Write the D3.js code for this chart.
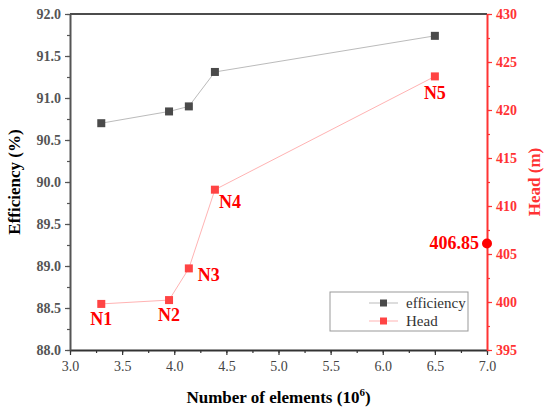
<!DOCTYPE html>
<html lang="en">
<head>
    <meta charset="UTF-8">
    <title>Efficiency and Head vs Number of elements</title>
    <script src="https://d3js.org/d3.v7.min.js"></script>
    <style>
        body {
            margin: 0;
            background: white;
        }
        svg text {
            font-family: "Liberation Serif", "DejaVu Serif", serif;
        }
    </style>
</head>
<body>
    <script>
        // data
        const elements = [3.3, 3.95, 4.14, 4.39, 6.5];
        const efficiency = [90.70, 90.84, 90.90, 91.31, 91.74];
        const head = [399.8, 400.2, 403.5, 411.7, 423.5];
        const meshNames = ["N1", "N2", "N3", "N4", "N5"];
        const xTicks = [3.0, 3.5, 4.0, 4.5, 5.0, 5.5, 6.0, 6.5, 7.0];
        const effTicks = [88.0, 88.5, 89.0, 89.5, 90.0, 90.5, 91.0, 91.5, 92.0];
        const headTicks = [395, 400, 405, 410, 415, 420, 425, 430];
        const chosen = { x: 7.0, y: 406.1, label: "406.85" };

        const width = 550, height = 412;
        const margin = { top: 14, right: 63, bottom: 62, left: 70 };
        const red = "#ff3333";

        const svg = d3.select("body")
            .append("svg")
            .attr("width", width)
            .attr("height", height);

        const x = d3.scaleLinear().domain([3, 7]).range([margin.left, width - margin.right]);
        const yE = d3.scaleLinear().domain([88, 92]).range([height - margin.bottom, margin.top]);
        const yH = d3.scaleLinear().domain([395, 430]).range([height - margin.bottom, margin.top]);

        const x0 = margin.left, x1 = width - margin.right;
        const y0 = height - margin.bottom, y1 = margin.top;

        // top frame line
        svg.append("line")
            .attr("x1", x0).attr("x2", x1)
            .attr("y1", y1).attr("y2", y1)
            .attr("stroke", "#111").attr("stroke-width", 1.5);

        // minor ticks (no labels)
        svg.append("g")
            .attr("transform", `translate(0,${y0})`)
            .call(d3.axisBottom(x).tickValues(d3.range(3, 7.001, 0.25)).tickSize(3).tickFormat(""))
            .call(g => g.select(".domain").remove())
            .call(g => g.selectAll("line").attr("stroke", "#333").attr("stroke-width", 1.2));

        svg.append("g")
            .attr("transform", `translate(${x0},0)`)
            .call(d3.axisLeft(yE).tickValues(d3.range(88, 92.001, 0.25)).tickSize(3).tickFormat(""))
            .call(g => g.select(".domain").remove())
            .call(g => g.selectAll("line").attr("stroke", "#555").attr("stroke-width", 1.2));

        svg.append("g")
            .attr("transform", `translate(${x1},0)`)
            .call(d3.axisRight(yH).tickValues(d3.range(395, 430.001, 2.5)).tickSize(3).tickFormat(""))
            .call(g => g.select(".domain").remove())
            .call(g => g.selectAll("line").attr("stroke", red).attr("stroke-width", 1.2));

        // bottom axis
        svg.append("g")
            .attr("transform", `translate(0,${y0})`)
            .call(d3.axisBottom(x).tickValues(xTicks).tickSize(5).tickPadding(6).tickSizeOuter(0)
                .tickFormat(d3.format(".1f")))
            .attr("font-family", null)
            .call(g => g.select(".domain").attr("stroke", "#333").attr("stroke-width", 2))
            .call(g => g.selectAll("line").attr("stroke", "#333").attr("stroke-width", 1.2))
            .call(g => g.selectAll("text").attr("fill", "#444").style("font-size", "14px"));

        // left axis
        svg.append("g")
            .attr("transform", `translate(${x0},0)`)
            .call(d3.axisLeft(yE).tickValues(effTicks).tickSize(5).tickPadding(4).tickSizeOuter(0)
                .tickFormat(d3.format(".1f")))
            .attr("font-family", null)
            .call(g => g.select(".domain").attr("stroke", "#555").attr("stroke-width", 2))
            .call(g => g.selectAll("line").attr("stroke", "#555").attr("stroke-width", 1.2))
            .call(g => g.selectAll("text")
                .attr("fill", "#555").style("font-size", "14px").style("font-weight", "bold"));

        // right axis
        svg.append("g")
            .attr("transform", `translate(${x1},0)`)
            .call(d3.axisRight(yH).tickValues(headTicks).tickSize(5).tickPadding(4).tickSizeOuter(0))
            .attr("font-family", null)
            .call(g => g.select(".domain").attr("stroke", red).attr("stroke-width", 2))
            .call(g => g.selectAll("line").attr("stroke", red).attr("stroke-width", 1.2))
            .call(g => g.selectAll("text")
                .attr("fill", red).style("font-size", "14px").style("font-weight", "bold"));

        // axis titles
        svg.append("text")
            .attr("transform", `translate(20,${(y0 + y1) / 2}) rotate(-90)`)
            .attr("text-anchor", "middle")
            .style("font-size", "17px").style("font-weight", "bold")
            .text("Efficiency (%)");

        svg.append("text")
            .attr("transform", `translate(540,${(y0 + y1) / 2}) rotate(-90)`)
            .attr("text-anchor", "middle")
            .attr("fill", red)
            .style("font-size", "17px").style("font-weight", "bold")
            .text("Head (m)");

        const xt = svg.append("text")
            .attr("x", (x0 + x1) / 2)
            .attr("y", 403)
            .attr("text-anchor", "middle")
            .style("font-size", "17px").style("font-weight", "bold")
            .text("Number of elements (10");
        xt.append("tspan").attr("dy", -7).style("font-size", "11px").text("6");
        xt.append("tspan").attr("dy", 7).text(")");

        // series
        const effData = elements.map((e, i) => ({ x: e, y: efficiency[i] }));
        const headData = elements.map((e, i) => ({ x: e, y: head[i], name: meshNames[i] }));

        svg.append("path")
            .datum(effData)
            .attr("fill", "none")
            .attr("stroke", "#bbb")
            .attr("stroke-width", 1)
            .attr("d", d3.line().x(d => x(d.x)).y(d => yE(d.y)));

        svg.append("path")
            .datum(headData)
            .attr("fill", "none")
            .attr("stroke", "#ffb3b3")
            .attr("stroke-width", 1)
            .attr("d", d3.line().x(d => x(d.x)).y(d => yH(d.y)));

        const sq = 8;
        svg.selectAll(".eff")
            .data(effData)
            .enter()
            .append("rect")
            .attr("class", "eff")
            .attr("x", d => x(d.x) - sq / 2)
            .attr("y", d => yE(d.y) - sq / 2)
            .attr("width", sq).attr("height", sq)
            .attr("fill", "#4a4a4a");

        svg.selectAll(".head")
            .data(headData)
            .enter()
            .append("rect")
            .attr("class", "head")
            .attr("x", d => x(d.x) - sq / 2)
            .attr("y", d => yH(d.y) - sq / 2)
            .attr("width", sq).attr("height", sq)
            .attr("fill", "#f44");

        // mesh labels
        const labelPos = {
            N1: { dx: 0, dy: 21, anchor: "middle" },
            N2: { dx: 0, dy: 21, anchor: "middle" },
            N3: { dx: 9, dy: 13, anchor: "start" },
            N4: { dx: 4, dy: 18, anchor: "start" },
            N5: { dx: 0, dy: 23, anchor: "middle" }
        };
        svg.selectAll(".nlabel")
            .data(headData)
            .enter()
            .append("text")
            .attr("class", "nlabel")
            .attr("x", d => x(d.x) + labelPos[d.name].dx)
            .attr("y", d => yH(d.y) + labelPos[d.name].dy)
            .attr("text-anchor", d => labelPos[d.name].anchor)
            .attr("fill", "#f00")
            .style("font-size", "18px").style("font-weight", "bold")
            .text(d => d.name);

        // highlighted point on the right axis
        svg.append("circle")
            .attr("cx", x(chosen.x))
            .attr("cy", yH(chosen.y))
            .attr("r", 5)
            .attr("fill", "#f00");
        svg.append("text")
            .attr("x", x(chosen.x) - 8)
            .attr("y", yH(chosen.y) + 6)
            .attr("text-anchor", "end")
            .attr("fill", "#f00")
            .style("font-size", "18px").style("font-weight", "bold")
            .text(chosen.label);

        // legend
        const legend = svg.append("g").attr("transform", "translate(330,292)");
        legend.append("rect")
            .attr("width", 138).attr("height", 39)
            .attr("fill", "white")
            .attr("stroke", "#999").attr("stroke-width", 1);
        const items = [
            { label: "efficiency", line: "#bbb", fill: "#4a4a4a" },
            { label: "Head", line: "#ffb3b3", fill: "#f44" }
        ];
        items.forEach((it, i) => {
            const cy = 11 + i * 18;
            legend.append("line")
                .attr("x1", 39).attr("x2", 68)
                .attr("y1", cy).attr("y2", cy)
                .attr("stroke", it.line);
            legend.append("rect")
                .attr("x", 50).attr("y", cy - 3.5)
                .attr("width", 7).attr("height", 7)
                .attr("fill", it.fill);
            legend.append("text")
                .attr("x", 76).attr("y", cy + 5)
                .attr("fill", "#333")
                .style("font-size", "15px")
                .text(it.label);
        });
    </script>
</body>
</html>
